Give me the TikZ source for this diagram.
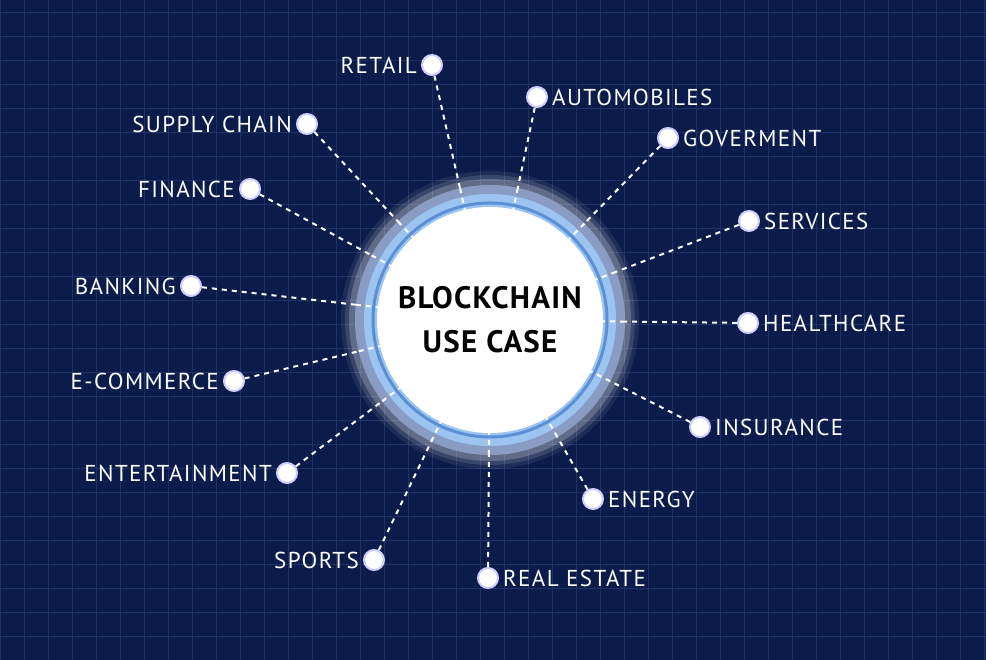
\documentclass[tikz,border=0pt]{standalone}
\usepackage{fontspec}
\setmainfont{PT Sans}
\usetikzlibrary{calc,positioning}
\definecolor{bg}{HTML}{0B1C4A}
\definecolor{gridc}{HTML}{1F3266}
\definecolor{ringgrey}{HTML}{8A9CC4}
\definecolor{ringblue}{HTML}{9CC4F0}
\definecolor{ringdark}{HTML}{5C8FD6}
\tikzset{
  dotn/.style={circle,fill=white,draw=white!80!blue,line width=2pt,minimum size=20pt,inner sep=0pt},
  lab/.style={text=white,font=\fontsize{23}{25}\selectfont\addfontfeature{LetterSpace=6},inner sep=2pt},
  conn/.style={white,dashed,line width=2pt,dash pattern=on 5pt off 5pt}
}
\begin{document}
\begin{tikzpicture}[x=1pt,y=1pt]
\fill[bg] (0,0) rectangle (986,660);
\useasboundingbox (0,0) rectangle (986,660);
\draw[gridc,line width=0.6pt,step=24] (0,0) grid (986,660);
\coordinate (c) at (490,340);
\foreach \n/\x/\y in {re/432/65,au/537/97,go/668/138,se/749/221,he/748/323,in/700/427,en/593/499,rs/488/578,sp/374/560,et/287/473,ec/234/381,ba/191/286,fi/250/189,su/307/124}{
  \node[dotn] (\n) at (\x,660-\y) {};
  \draw[conn] (\n) -- ($(c)!113pt!(\n)$);
}
\foreach \r/\o in {14/0.08,10/0.12,6/0.2}{\fill[white,opacity=\o] (c) circle (135+\r);}
\fill[ringgrey] (c) circle (135);
\fill[ringblue] (c) circle (126);
\draw[ringdark,line width=3pt] (c) circle (117);
\foreach \n in {re,au,go,se,he,in,en,rs,sp,et,ec,ba,fi,su}{
  \draw[conn] ($(c)!135pt!(\n)$) -- ($(c)!113pt!(\n)$);
}
\fill[white] (c) circle (113);
\node[align=center,font=\bfseries\fontsize{31}{44}\selectfont\addfontfeature{LetterSpace=4},text=black] (t) at (c) {BLOCKCHAIN\\USE CASE};
\node[lab,left=2pt of re] {RETAIL};
\node[lab,right=2pt of au] {AUTOMOBILES};
\node[lab,right=2pt of go] {GOVERMENT};
\node[lab,right=2pt of se] {SERVICES};
\node[lab,right=2pt of he] {HEALTHCARE};
\node[lab,right=2pt of in] {INSURANCE};
\node[lab,right=2pt of en] {ENERGY};
\node[lab,right=2pt of rs] {REAL ESTATE};
\node[lab,left=2pt of sp] {SPORTS};
\node[lab,left=2pt of et] {ENTERTAINMENT};
\node[lab,left=2pt of ec] {E-COMMERCE};
\node[lab,left=2pt of ba] {BANKING};
\node[lab,left=2pt of fi] {FINANCE};
\node[lab,left=2pt of su] {SUPPLY CHAIN};
\end{tikzpicture}
\end{document}
